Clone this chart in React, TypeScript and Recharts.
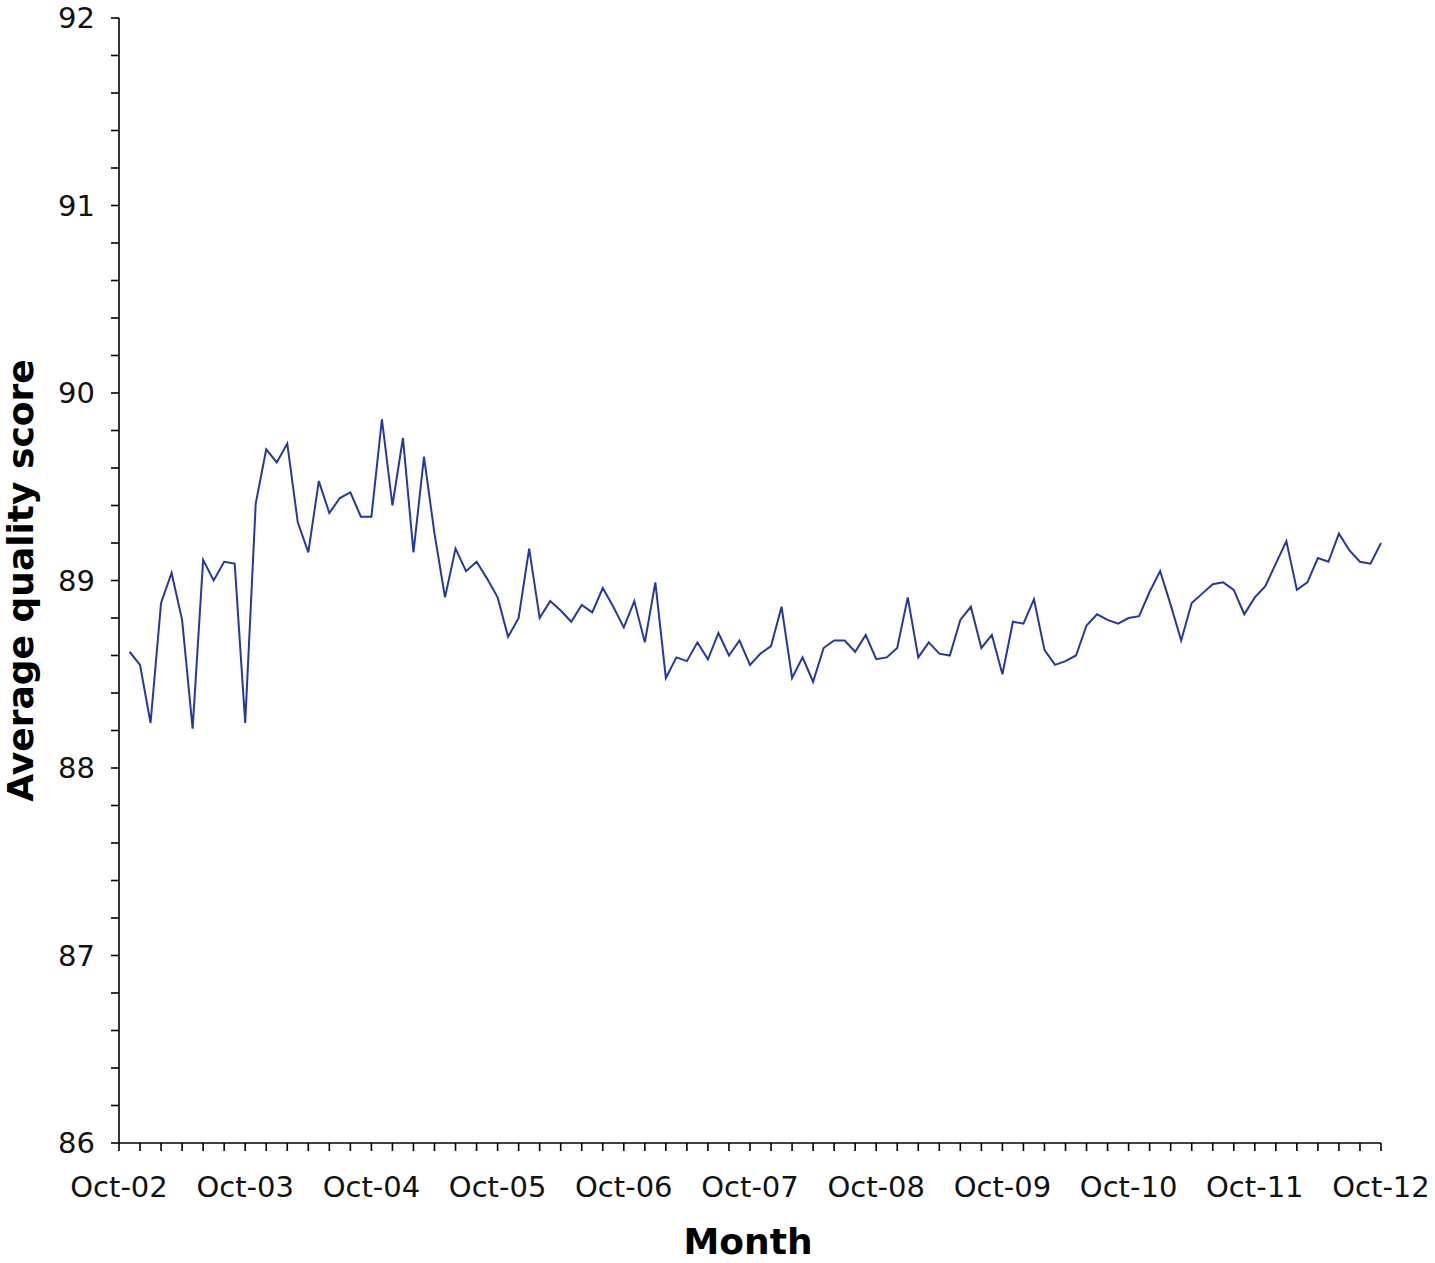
import React from 'react';
import { LineChart, Line, XAxis, YAxis, Label } from 'recharts';

// monthly average quality score, Nov-02 .. Oct-12
const scores = [
  88.62, 88.55, 88.24, 88.88, 89.04, 88.79, 88.21, 89.11, 89.00, 89.10, 89.09, 88.24,
  89.41, 89.70, 89.63, 89.73, 89.31, 89.15, 89.53, 89.36, 89.44, 89.47, 89.34, 89.34,
  89.86, 89.40, 89.76, 89.15, 89.66, 89.25, 88.91, 89.17, 89.05, 89.10, 89.01, 88.91,
  88.70, 88.80, 89.17, 88.80, 88.89, 88.84, 88.78, 88.87, 88.83, 88.96, 88.86, 88.75,
  88.89, 88.67, 88.99, 88.48, 88.59, 88.57, 88.67, 88.58, 88.72, 88.60, 88.68, 88.55,
  88.61, 88.65, 88.86, 88.48, 88.59, 88.46, 88.64, 88.68, 88.68, 88.62, 88.71, 88.58,
  88.59, 88.64, 88.91, 88.59, 88.67, 88.61, 88.60, 88.79, 88.86, 88.64, 88.71, 88.50,
  88.78, 88.77, 88.90, 88.63, 88.55, 88.57, 88.60, 88.76, 88.82, 88.79, 88.77, 88.80,
  88.81, 88.94, 89.05, 88.87, 88.68, 88.88, 88.93, 88.98, 88.99, 88.95, 88.82, 88.91,
  88.97, 89.09, 89.21, 88.95, 88.99, 89.12, 89.10, 89.25, 89.16, 89.10, 89.09, 89.20,
];

const yearLabels = ['Oct-02', 'Oct-03', 'Oct-04', 'Oct-05', 'Oct-06', 'Oct-07', 'Oct-08', 'Oct-09', 'Oct-10', 'Oct-11', 'Oct-12'];

const yTicks = [
  86, 86.2, 86.4, 86.6, 86.8, 87, 87.2, 87.4, 87.6, 87.8,
  88, 88.2, 88.4, 88.6, 88.8, 89, 89.2, 89.4, 89.6, 89.8,
  90, 90.2, 90.4, 90.6, 90.8, 91, 91.2, 91.4, 91.6, 91.8, 92,
];

// a tick every two months, label only at each October
const xTicks = Array.from({ length: 61 }, (_, i) => i * 2);

const data = scores.map((score, i) => ({ month: i + 1, score }));

const FONT = '"DejaVu Sans", Verdana, sans-serif';
const axisStyle = { stroke: '#000', strokeWidth: 1.6 };

export default function App() {
  return (
    <div style={{ position: 'absolute', left: 0, top: 0, background: '#fff' }}>
      <LineChart width={1435} height={1263} data={data} margin={{ top: 18, right: 54, left: 0, bottom: 0 }}>
        <XAxis
          dataKey="month"
          type="number"
          domain={[0, 120]}
          ticks={xTicks}
          interval={0}
          height={120}
          tickSize={8}
          tickMargin={25}
          axisLine={axisStyle}
          tickLine={axisStyle}
          tick={{ fontSize: 29, fill: '#111', fontFamily: FONT }}
          tickFormatter={(v: number) => (v % 12 === 0 ? yearLabels[v / 12] : '')}
        >
          <Label
            content={({ viewBox }: any) => (
              <text
                x={viewBox.x + viewBox.width / 2 - 2}
                y={viewBox.y + 111}
                textAnchor="middle"
                fontSize={36}
                fontWeight="bold"
                fontFamily={FONT}
                fill="#000"
              >
                Month
              </text>
            )}
          />
        </XAxis>
        <YAxis
          type="number"
          domain={[86, 92]}
          ticks={yTicks}
          interval={0}
          width={119}
          tickSize={8}
          tickMargin={16}
          axisLine={axisStyle}
          tickLine={axisStyle}
          tick={{ fontSize: 29, fill: '#111', fontFamily: FONT }}
          tickFormatter={(v: number) => (Math.abs(v - Math.round(v)) < 1e-6 ? String(Math.round(v)) : '')}
        >
          <Label
            content={({ viewBox }: any) => {
              const cx = viewBox.x + 33;
              const cy = viewBox.y + viewBox.height / 2;
              return (
                <text
                  x={cx}
                  y={cy}
                  transform={`rotate(-90, ${cx}, ${cy})`}
                  textAnchor="middle"
                  fontSize={36}
                  fontWeight="bold"
                  fontFamily={FONT}
                  fill="#000"
                >
                  Average quality score
                </text>
              );
            }}
          />
        </YAxis>
        <Line
          type="linear"
          dataKey="score"
          stroke="#25399A"
          strokeWidth={2}
          dot={false}
          activeDot={false}
          isAnimationActive={false}
        />
      </LineChart>
    </div>
  );
}
